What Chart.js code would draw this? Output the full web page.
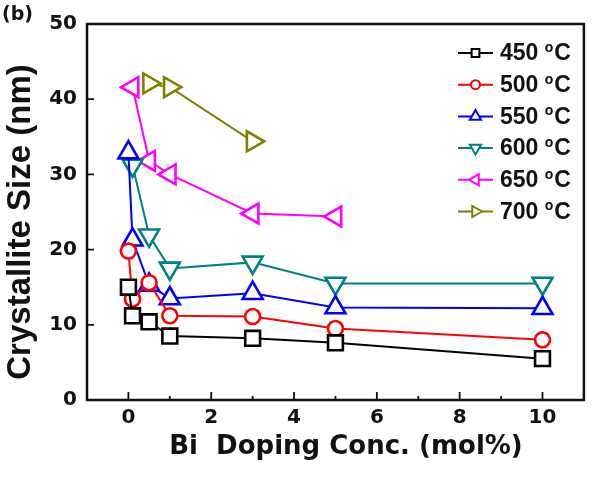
<!DOCTYPE html>
<html>
<head>
<meta charset="utf-8">
<script src="https://cdn.jsdelivr.net/npm/chart.js@4.4.0/dist/chart.umd.min.js"></script>
<style>
  html, body { margin: 0; padding: 0; background: #fff; }
  canvas { display: block; }
</style>
</head>
<body>
<canvas id="chart" width="598" height="477"></canvas>
<script>
// data (Bi doping in mol%, crystallite size in nm)
const seriesNames = ['450', '500', '550', '600', '650', '700'];
const doping450 = [0, 0.1, 0.5, 1, 3, 5, 10];
const size450 = [15.0, 11.2, 10.4, 8.5, 8.2, 7.6, 5.5];
const doping500 = [0, 0.1, 0.5, 1, 3, 5, 10];
const size500 = [19.8, 13.4, 15.6, 11.2, 11.1, 9.5, 8.0];
const doping550 = [0, 0.1, 0.5, 1, 3, 5, 10];
const size550 = [32.9, 21.3, 15.3, 13.5, 14.2, 12.3, 12.2];
const doping600 = [0.1, 0.5, 1, 3, 5, 10];
const size600 = [31.2, 21.9, 17.5, 18.3, 15.5, 15.5];
const doping650 = [0.1, 0.5, 1, 3, 5];
const size650 = [41.6, 31.8, 30.0, 24.8, 24.4];
const doping700 = [0.5, 1, 3];
const size700 = [42.1, 41.6, 34.4];
const xTicks = [0, 2, 4, 6, 8, 10];
const xMinorTicks = [1, 3, 5, 7, 9];
const yTicks = [0, 10, 20, 30, 40, 50];

const colors = ['#000000', '#ff0000', '#0000ff', '#008080', '#ff00ff', '#808000'];
const styles = ['rect', 'circle', 'triangle', 'triangle', 'triangle', 'triangle'];
const rotations = [0, 0, 0, 180, 270, 90];
const radii = [10.5, 7.5, 11.5, 11.5, 11.5, 11.5];

const xs = [doping450, doping500, doping550, doping600, doping650, doping700];
const ys = [size450, size500, size550, size600, size650, size700];

function pts(x, y) {
  return x.map(function(v, i) { return { x: v, y: y[i] }; });
}

const datasets = seriesNames.map(function(name, i) {
  return {
    label: name + ' °C',
    data: pts(xs[i], ys[i]),
    borderColor: colors[i],
    borderWidth: 2,
    pointStyle: styles[i],
    pointRotation: rotations[i],
    pointRadius: radii[i],
    pointHoverRadius: radii[i],
    pointBorderWidth: 2.6,
    pointBorderColor: colors[i],
    pointBackgroundColor: '#ffffff',
    showLine: true,
    fill: false,
    tension: 0
  };
});

const TICK_FONT = { family: '"DejaVu Sans"', size: 20, weight: 'bold' };

// frame, inward ticks, titles, panel label and legend
const decorations = {
  id: 'decorations',
  afterDraw(chart) {
    const ctx = chart.ctx;
    const a = chart.chartArea;
    const sx = chart.scales.x, sy = chart.scales.y;
    ctx.save();
    ctx.strokeStyle = '#111';
    ctx.lineWidth = 2.5;
    ctx.strokeRect(a.left, a.top, a.right - a.left, a.bottom - a.top);

    ctx.lineWidth = 1.8;
    ctx.beginPath();
    xTicks.forEach(function(v) {
      const px = sx.getPixelForValue(v);
      ctx.moveTo(px, a.bottom); ctx.lineTo(px, a.bottom - 8);
    });
    xMinorTicks.forEach(function(v) {
      const px = sx.getPixelForValue(v);
      ctx.moveTo(px, a.bottom); ctx.lineTo(px, a.bottom - 4);
    });
    yTicks.forEach(function(v) {
      const py = sy.getPixelForValue(v);
      ctx.moveTo(a.left, py); ctx.lineTo(a.left + 7, py);
    });
    ctx.stroke();

    // axis titles
    ctx.fillStyle = '#111';
    ctx.textAlign = 'center';
    ctx.textBaseline = 'middle';
    ctx.font = 'bold 26px "DejaVu Sans"';
    ctx.fillText('Bi  Doping Conc. (mol%)', 346, 447);
    ctx.save();
    ctx.translate(21, 222);
    ctx.rotate(-Math.PI / 2);
    ctx.font = 'bold 33px "Liberation Sans"';
    ctx.fillText('Crystallite Size (nm)', 0, 0);
    ctx.restore();

    // panel label
    ctx.textAlign = 'left';
    ctx.font = 'bold 19px "DejaVu Sans"';
    ctx.fillText('(b)', 2, 15);

    // legend
    const lx0 = 458, lx1 = 493, tx = 500;
    chart.data.datasets.forEach(function(ds, i) {
      const y = 53 + i * 31.7;
      ctx.strokeStyle = colors[i];
      ctx.lineWidth = 2;
      ctx.beginPath();
      ctx.moveTo(lx0, y); ctx.lineTo(lx1, y);
      ctx.stroke();
      ctx.fillStyle = '#fff';
      ctx.lineWidth = 2;
      Chart.helpers.drawPoint(ctx, {
        pointStyle: styles[i],
        rotation: rotations[i],
        radius: i === 1 ? 4.5 : (i === 0 ? 5.5 : 6.5),
        borderWidth: 2
      }, (lx0 + lx1) / 2, y);
      ctx.fillStyle = '#111';
      ctx.textAlign = 'left';
      ctx.font = 'bold 23px "Liberation Sans"';
      const num = seriesNames[i] + ' ';
      ctx.fillText(num, tx, y + 1);
      let w = ctx.measureText(num).width;
      ctx.font = 'bold 14px "Liberation Sans"';
      ctx.fillText('o', tx + w, y - 5);
      w += ctx.measureText('o').width + 1;
      ctx.font = 'bold 23px "Liberation Sans"';
      ctx.fillText('C', tx + w, y + 1);
    });
    ctx.restore();
  }
};

new Chart(document.getElementById('chart'), {
  type: 'line',
  data: { datasets: datasets },
  options: {
    responsive: false,
    animation: false,
    layout: { padding: { top: 24, right: 3, left: 0, bottom: 0 } },
    plugins: {
      legend: { display: false },
      tooltip: { enabled: false }
    },
    scales: {
      x: {
        type: 'linear',
        min: -1,
        max: 11,
        afterBuildTicks: function(scale) {
          scale.ticks = xTicks.map(function(v) { return { value: v }; });
        },
        afterFit: function(scale) { scale.height = 77; },
        grid: { display: false, drawTicks: false },
        border: { display: false },
        ticks: { color: '#111', font: TICK_FONT, padding: 6, maxRotation: 0 }
      },
      y: {
        type: 'linear',
        min: 0,
        max: 50,
        afterBuildTicks: function(scale) {
          scale.ticks = yTicks.map(function(v) { return { value: v }; });
        },
        afterFit: function(scale) { scale.width = 87; },
        grid: { display: false, drawTicks: false },
        border: { display: false },
        ticks: { color: '#111', font: TICK_FONT, padding: 10 }
      }
    }
  },
  plugins: [decorations]
});
</script>
</body>
</html>
